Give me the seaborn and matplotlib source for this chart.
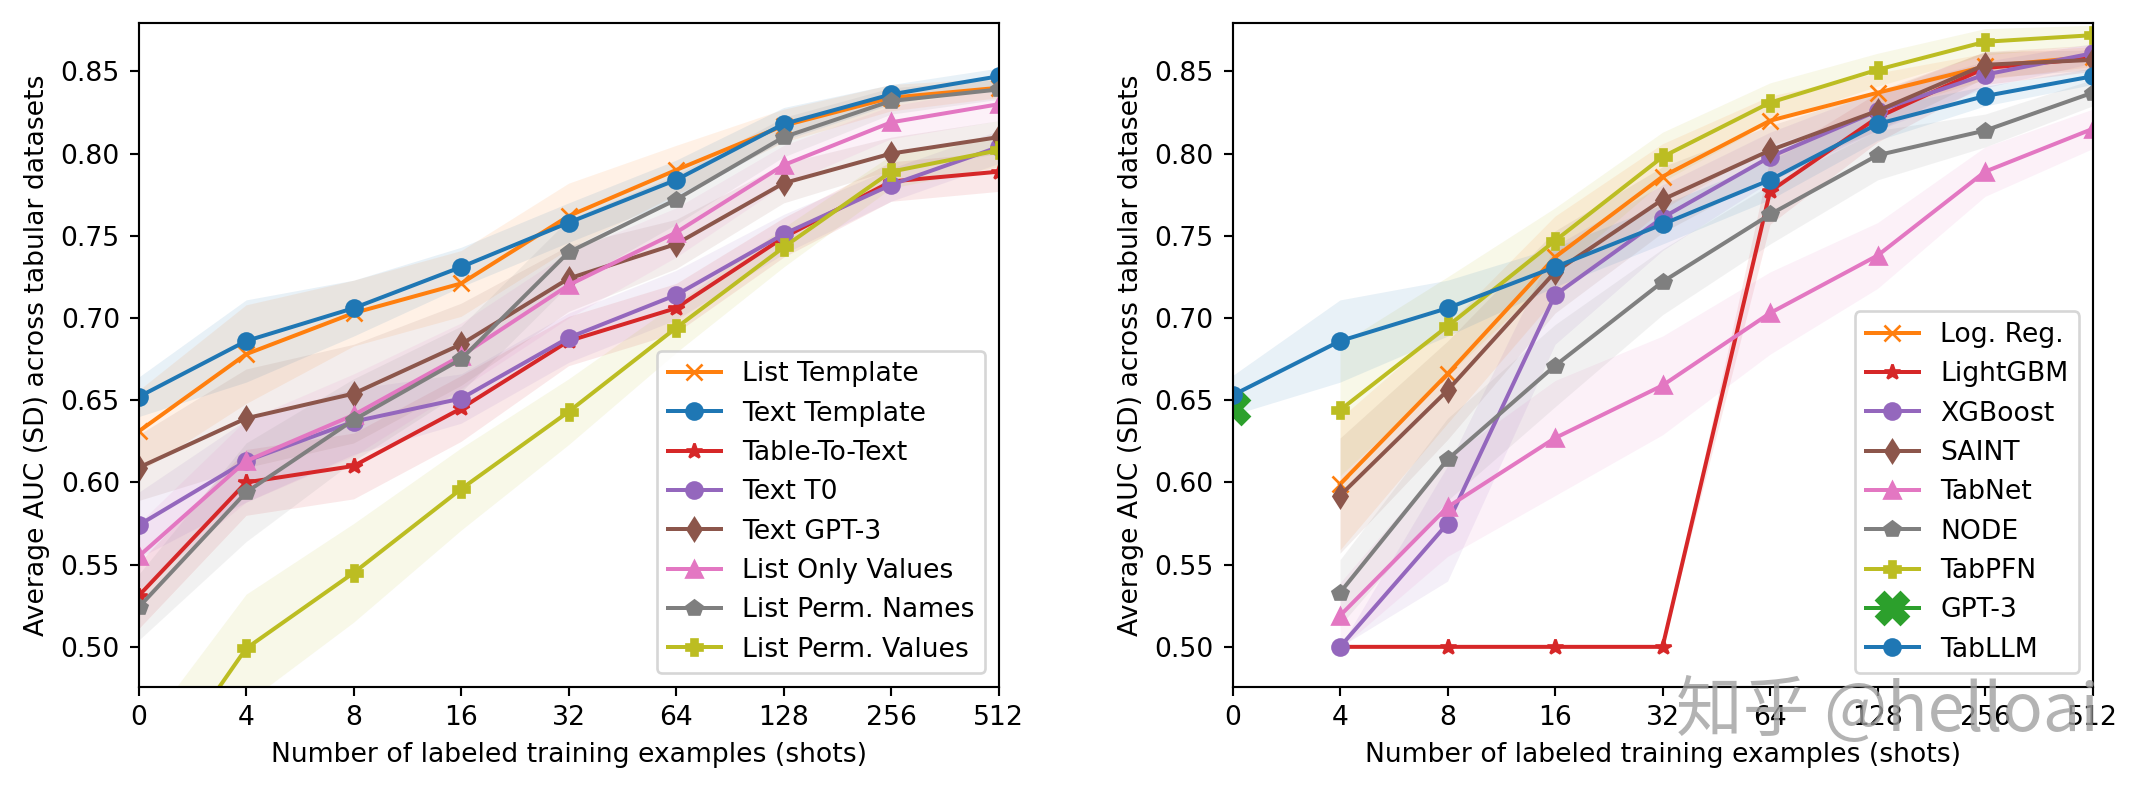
import numpy as np
import pandas as pd
import seaborn as sns
import matplotlib.pyplot as plt

nan = np.nan

shots = ["0", "4", "8", "16", "32", "64", "128", "256", "512"]
xpos = list(range(len(shots)))

# Left panel: serialization methods
serial_names = ["List Template", "Text Template", "Table-To-Text", "Text T0",
                "Text GPT-3", "List Only Values", "List Perm. Names", "List Perm. Values"]
list_template = [0.631, 0.678, 0.703, 0.721, 0.762, 0.790, 0.817, 0.834, 0.840]
text_template = [0.652, 0.686, 0.706, 0.731, 0.758, 0.784, 0.818, 0.836, 0.847]
table_to_text = [0.531, 0.600, 0.610, 0.645, 0.686, 0.706, 0.749, 0.783, 0.789]
text_t0 = [0.574, 0.613, 0.637, 0.651, 0.688, 0.714, 0.751, 0.781, 0.804]
text_gpt3 = [0.609, 0.639, 0.654, 0.684, 0.724, 0.745, 0.782, 0.800, 0.810]
list_only_values = [0.555, 0.613, 0.641, 0.677, 0.720, 0.752, 0.793, 0.819, 0.830]
list_perm_names = [0.524, 0.594, 0.638, 0.675, 0.740, 0.772, 0.810, 0.832, 0.839]
list_perm_values = [0.405, 0.499, 0.545, 0.596, 0.643, 0.694, 0.743, 0.789, 0.802]

list_template_sd = [0.025, 0.030, 0.020, 0.020, 0.020, 0.015, 0.010, 0.008, 0.006]
text_template_sd = [0.012, 0.025, 0.017, 0.012, 0.012, 0.012, 0.010, 0.006, 0.005]
table_to_text_sd = [0.020, 0.020, 0.020, 0.020, 0.015, 0.015, 0.012, 0.012, 0.012]
text_t0_sd = [0.020, 0.025, 0.020, 0.015, 0.015, 0.015, 0.012, 0.010, 0.010]
text_gpt3_sd = [0.020, 0.030, 0.030, 0.025, 0.020, 0.015, 0.012, 0.010, 0.010]
list_only_values_sd = [0.020, 0.025, 0.025, 0.020, 0.020, 0.015, 0.012, 0.010, 0.010]
list_perm_names_sd = [0.020, 0.030, 0.025, 0.020, 0.020, 0.015, 0.012, 0.008, 0.006]
list_perm_values_sd = [0.040, 0.033, 0.030, 0.025, 0.020, 0.015, 0.012, 0.010, 0.010]

# Right panel: baselines
base_names = ["Log. Reg.", "LightGBM", "XGBoost", "SAINT", "TabNet",
              "NODE", "TabPFN", "GPT-3", "TabLLM"]
log_reg = [nan, 0.599, 0.666, 0.737, 0.786, 0.820, 0.837, 0.853, 0.859]
lightgbm = [nan, 0.500, 0.500, 0.500, 0.500, 0.777, 0.822, 0.852, 0.858]
xgboost = [nan, 0.500, 0.575, 0.714, 0.761, 0.798, 0.826, 0.848, 0.861]
saint = [nan, 0.592, 0.656, 0.728, 0.772, 0.802, 0.826, 0.854, 0.857]
tabnet = [nan, 0.519, 0.585, 0.627, 0.659, 0.703, 0.738, 0.789, 0.815]
node = [nan, 0.533, 0.614, 0.671, 0.722, 0.763, 0.799, 0.814, 0.837]
tabpfn = [nan, 0.644, 0.695, 0.747, 0.798, 0.831, 0.851, 0.868, 0.872]
gpt3 = [0.645, nan, nan, nan, nan, nan, nan, nan, nan]
tabllm = [0.653, 0.686, 0.706, 0.731, 0.757, 0.784, 0.818, 0.835, 0.847]

log_reg_sd = [nan, 0.040, 0.030, 0.025, 0.020, 0.015, 0.012, 0.008, 0.006]
lightgbm_sd = [nan, 0.0, 0.0, 0.0, 0.0, 0.020, 0.015, 0.010, 0.008]
xgboost_sd = [nan, 0.0, 0.035, 0.030, 0.020, 0.015, 0.012, 0.008, 0.006]
saint_sd = [nan, 0.035, 0.030, 0.025, 0.020, 0.015, 0.012, 0.008, 0.006]
tabnet_sd = [nan, 0.020, 0.030, 0.035, 0.030, 0.025, 0.020, 0.015, 0.012]
node_sd = [nan, 0.020, 0.025, 0.025, 0.020, 0.018, 0.015, 0.010, 0.008]
tabpfn_sd = [nan, 0.040, 0.030, 0.020, 0.015, 0.012, 0.010, 0.008, 0.006]
gpt3_sd = [nan] * 9
tabllm_sd = text_template_sd

pal = sns.color_palette("tab10")

left_series = [
    (serial_names[0], list_template, list_template_sd, pal[1], "x", 6),
    (serial_names[1], text_template, text_template_sd, pal[0], "o", 6),
    (serial_names[2], table_to_text, table_to_text_sd, pal[3], "*", 6),
    (serial_names[3], text_t0, text_t0_sd, pal[4], "o", 6),
    (serial_names[4], text_gpt3, text_gpt3_sd, pal[5], "d", 6),
    (serial_names[5], list_only_values, list_only_values_sd, pal[6], "^", 6),
    (serial_names[6], list_perm_names, list_perm_names_sd, pal[7], "p", 6),
    (serial_names[7], list_perm_values, list_perm_values_sd, pal[8], "P", 6),
]
right_series = [
    (base_names[0], log_reg, log_reg_sd, pal[1], "x", 6),
    (base_names[1], lightgbm, lightgbm_sd, pal[3], "*", 6),
    (base_names[2], xgboost, xgboost_sd, pal[4], "o", 6),
    (base_names[3], saint, saint_sd, pal[5], "d", 6),
    (base_names[4], tabnet, tabnet_sd, pal[6], "^", 6),
    (base_names[5], node, node_sd, pal[7], "p", 6),
    (base_names[6], tabpfn, tabpfn_sd, pal[8], "P", 6),
    (base_names[7], gpt3, gpt3_sd, pal[2], "X", 12),
    (base_names[8], tabllm, tabllm_sd, pal[0], "o", 6),
]


def draw_panel(ax, series):
    for name, vals, sd, color, marker, ms in series:
        df = pd.DataFrame({"x": xpos, "y": vals, "sd": sd})
        band = df.dropna()
        ax.fill_between(band["x"], band["y"] - band["sd"], band["y"] + band["sd"],
                        color=color, alpha=0.1, linewidth=0)
        sns.lineplot(data=df.dropna(subset=["y"]), x="x", y="y", ax=ax, color=color,
                     marker=marker, markersize=ms, markeredgecolor=color,
                     markeredgewidth=1.0, linewidth=1.5, label=name)
    ax.set_xlim(0, 8)
    ax.set_ylim(0.4757, 0.8794)
    ax.set_xticks(xpos)
    ax.set_xticklabels(shots)
    ax.set_yticks([0.50, 0.55, 0.60, 0.65, 0.70, 0.75, 0.80, 0.85])
    ax.set_xlabel("Number of labeled training examples (shots)")
    ax.set_ylabel("Average AUC (SD) across tabular datasets")
    ax.legend(loc="lower right")


fig, axes = plt.subplots(1, 2, figsize=(2132 / 192, 794 / 192), dpi=192)
plt.subplots_adjust(left=0.065, right=0.9815, bottom=0.135, top=0.971, wspace=0.272)

draw_panel(axes[0], left_series)
draw_panel(axes[1], right_series)

# site watermark seen on the source image
fig.text(0.786, 0.103, "知乎 @helloai", fontsize=25, color="#a0a0a0", alpha=0.8,
         family=["Noto Sans CJK SC", "DejaVu Sans"], va="center")

plt.savefig("out.png", dpi=192)
